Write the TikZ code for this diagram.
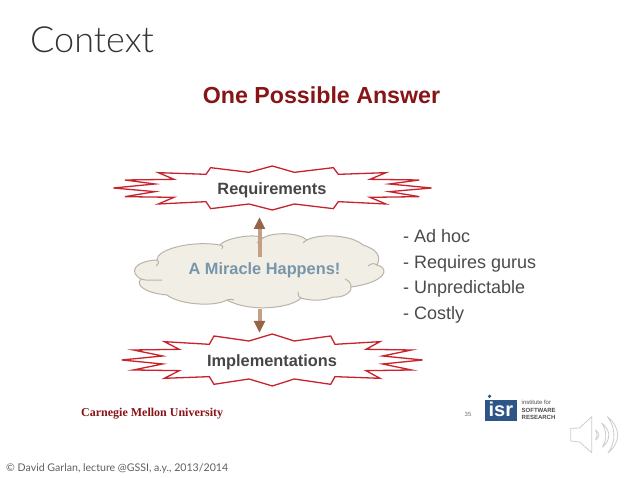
\documentclass[tikz,border=0pt]{standalone}
\usepackage{fontspec}
\setmainfont{Liberation Sans}
\newfontfamily\ralew{Lato Light}
\newfontfamily\ralewb{Lato}
\newfontfamily\cmu{Liberation Serif}
\definecolor{burstred}{RGB}{200,35,45}
\definecolor{titlered}{RGB}{135,20,22}
\definecolor{labelgray}{RGB}{70,70,70}
\definecolor{cloudfill}{RGB}{241,238,230}
\definecolor{cloudline}{RGB}{185,180,168}
\definecolor{miracle}{RGB}{120,150,170}
\definecolor{arrowhead}{RGB}{150,100,70}
\definecolor{arrowshaft}{RGB}{195,160,132}
\definecolor{listgray}{RGB}{75,75,75}
\definecolor{footgray}{RGB}{95,95,95}
\definecolor{isrblue}{RGB}{45,85,135}
\definecolor{speaker}{RGB}{205,205,205}
\tikzset{
  burst/.style={draw=burstred,fill=white,line width=1.3pt,line join=miter,miter limit=10},
  burstlabel/.style={font=\bfseries\fontsize{16.35}{18}\selectfont,text=labelgray,inner sep=0pt},
  listitem/.style={font=\fontsize{18}{20}\selectfont,text=listgray,anchor=base west,inner sep=0pt},
  shaft/.style={draw=arrowshaft,line width=4pt},
  headfill/.style={fill=arrowhead,draw=none},
  cloudedge/.style={draw=cloudline,line width=1pt},
  spk/.style={draw=speaker,line width=0.8pt,fill=white,line join=round},
  isrtext/.style={anchor=base west,inner sep=0pt,font=\fontsize{6}{6.5}\selectfont,text=black!70},
}
\begin{document}
\begin{tikzpicture}[x=1pt,y=-1pt]
\useasboundingbox (0,0) rectangle (638,478);
\fill[white] (0,0) rectangle (638,478);

\node[anchor=base west,inner sep=0pt,font=\ralew\fontsize{36}{40}\selectfont,text=black!80] (ctx) at (30,53) {Context};
\node[anchor=base,inner sep=0pt,font=\bfseries\fontsize{23.2}{25}\selectfont,text=titlered] (title) at (321.5,104) {One Possible Answer};

% cloud
\path[fill=cloudfill,cloudedge] (157,260)
 .. controls (156,250) and (190,240) .. (220,245)
 .. controls (225,238) and (255,233) .. (263,238)
 .. controls (272,232) and (298,232) .. (307,240)
 .. controls (320,233) and (352,235) .. (363,245)
 .. controls (376,249) and (382,256) .. (377,265)
 .. controls (390,268) and (387,282) .. (351,287)
 .. controls (352,293) and (342,298) .. (333,297)
 .. controls (325,301) and (310,301) .. (301,298)
 .. controls (292,308) and (250,313) .. (227,300)
 .. controls (215,307) and (180,305) .. (167,295)
 .. controls (145,293) and (135,285) .. (141,279)
 .. controls (128,272) and (135,261) .. (157,260) -- cycle;
\draw[cloudedge,fill=none] (157,260) .. controls (160,262) and (158,265) .. (156,266);
\draw[cloudedge,fill=none] (141,279) .. controls (146,281) and (155,280) .. (162,280);
\draw[cloudedge,fill=none] (377,265) .. controls (374,263) and (372,263) .. (368,266);
\draw[cloudedge,fill=none] (351,287) .. controls (351,283) and (349,281) .. (345,279);
\draw[cloudedge,fill=none] (301,298) .. controls (298,296) and (298,295) .. (298,292);
\draw[cloudedge,fill=none] (227,300) .. controls (230,299) and (232,299) .. (234,300);
\draw[cloudedge,fill=none] (220,245) .. controls (223,246) and (224,247) .. (222,249);
\draw[cloudedge,fill=none] (263,238) .. controls (261,240) and (259,241) .. (257,243);
\draw[cloudedge,fill=none] (307,240) .. controls (305,241) and (304,242) .. (303,243);
\node[inner sep=0pt,font=\bfseries\fontsize{16.35}{18}\selectfont,text=miracle] (cloud) at (264.5,270) {A Miracle Happens!};
\coordinate (cloudtop) at (259.5,257);
\coordinate (cloudbot) at (259.5,309);

% top starburst
\begin{scope}[shift={(100,150)},x=0.3333pt,y=-0.3333pt]
\draw[burst] (40,114)--(165,125)--(75,140)--(222,142)--(175,162)--(318,155)--(332,176)--(447,162)--(517,180)--(583,162)--(700,176)--(715,155)--(858,162)--(810,142)--(958,140)--(868,125)--(995,114)--(868,102)--(958,90)--(810,88)--(858,68)--(715,73)--(700,53)--(583,67)--(517,48)--(447,67)--(332,53)--(318,73)--(175,68)--(222,88)--(75,90)--(165,102)--cycle;
\end{scope}
\node[burstlabel] (req) at (272,190) {Requirements};

% bottom starburst
\begin{scope}[shift={(100,250)},x=0.3333pt,y=-0.3333pt]
\draw[burst] (65,330)--(188,342)--(100,360)--(238,362)--(193,385)--(328,380)--(342,403)--(447,387)--(517,408)--(583,387)--(692,403)--(705,380)--(840,385)--(798,362)--(935,360)--(848,342)--(968,330)--(848,318)--(935,300)--(798,298)--(840,275)--(705,283)--(692,258)--(583,273)--(517,252)--(447,273)--(342,258)--(328,283)--(193,275)--(238,298)--(100,300)--(188,318)--cycle;
\end{scope}
\node[burstlabel] (impl) at (272,362) {Implementations};

% arrows
\coordinate (upbase) at (259.5,229);
\coordinate (downbase) at (259.5,321);
\draw[shaft] (cloudtop) -- (upbase);
\fill[headfill] (upbase) -- ++(-5.8,0) -- ++(5.8,-11.5) -- ++(5.8,11.5) -- cycle;
\draw[shaft] (cloudbot) -- (downbase);
\fill[headfill] (downbase) -- ++(-5.8,0) -- ++(5.8,11.5) -- ++(5.8,-11.5) -- cycle;

% list
\node[listitem] (l1) at (403,243) {- Ad hoc};
\node[listitem] (l2) at (403,268.5) {- Requires gurus};
\node[listitem] (l3) at (403,294) {- Unpredictable};
\node[listitem] (l4) at (403,319.5) {- Costly};

% footer
\node[anchor=base west,inner sep=0pt,font=\cmu\bfseries\fontsize{12}{14}\selectfont,text=titlered] (cmu) at (81,417) {Carnegie Mellon University};
\node[inner sep=0pt,font=\fontsize{6}{7}\selectfont,text=black!55] (num) at (468,414) {35};
\node[anchor=base west,inner sep=0pt,font=\ralewb\fontsize{10.6}{12}\selectfont,text=footgray] (copy) at (6,472) {© David Garlan, lecture @GSSI, a.y., 2013/2014};

% ISR logo
\fill[isrblue] (485,400) rectangle (516.7,421);
\fill[isrblue] (489.5,396.3) circle (1.8);
\node[inner sep=0pt,font=\bfseries\fontsize{20}{20}\selectfont,text=white] (isr) at (500.8,409.5) {isr};
\node[isrtext] (isr1) at (521.5,405) {institute for};
\node[isrtext,font=\bfseries\fontsize{6}{6.5}\selectfont] (isr2) at (521.5,412.5) {SOFTWARE};
\node[isrtext,font=\bfseries\fontsize{6}{6.5}\selectfont] (isr3) at (521.5,420) {RESEARCH};

% speaker
\draw[spk] (570.7,428.3) -- (570.7,441) -- (579.5,442) -- (591.7,452.7) -- (591.7,416.7) -- (579.5,428) -- cycle;
\draw[spk] (595.5,430) .. controls (600,433) and (600,437) .. (595.5,440) .. controls (597.5,436) and (597.5,434) .. (595.5,430) -- cycle;
\draw[spk] (601.7,423) .. controls (611,430) and (611,440) .. (602.5,447) .. controls (607,439) and (607,431) .. (601.7,423) -- cycle;
\draw[spk] (607.5,416.7) .. controls (621,428) and (621,442) .. (608,453) .. controls (616,442) and (616,428) .. (607.5,416.7) -- cycle;
\end{tikzpicture}
\end{document}
